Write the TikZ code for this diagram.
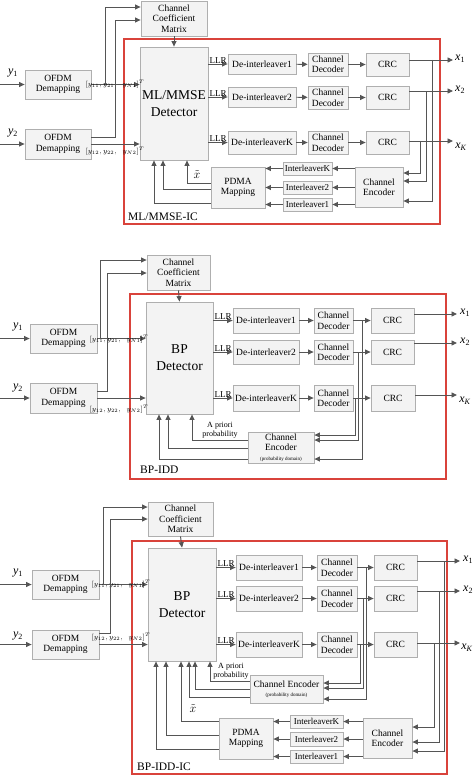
\documentclass[tikz,border=0pt]{standalone}
\usepackage{fontspec}
\setmainfont{Liberation Serif}
\usetikzlibrary{arrows.meta}
\definecolor{wirecol}{HTML}{555555}
\definecolor{bxfill}{HTML}{F3F3F3}
\definecolor{bxdraw}{HTML}{AFAFAF}
\definecolor{rd}{HTML}{D9433B}
\newcommand\mybox[7][box]{\node[#1,minimum width={(#5)-(#3)},minimum height={(#6)-(#4)}] (#2) at ({((#3)+(#5))/2},{((#4)+(#6))/2}) {#7};}
\newcommand\ylist[1]{$[y_{1#1},y_{2#1},\;\;y_{N#1}]^T$}
\begin{document}
\begin{tikzpicture}[x=1pt,y=-1pt,
  box/.style={draw=bxdraw,fill=bxfill,line width=0.8pt,inner sep=1pt,align=center,font=\fontsize{9.5}{10.5}\selectfont},
  sbox/.style={box,font=\fontsize{9}{10}\selectfont},
  detbox/.style={box,font=\fontsize{13.5}{17}\selectfont},
  arr/.style={draw=wirecol,line width=0.95pt,-{Triangle[length=5.5pt,width=5pt]}},
  wire/.style={draw=wirecol,line width=0.95pt},
  redbox/.style={draw=rd,line width=1.2pt},
  lab/.style={font=\fontsize{9}{10}\selectfont,inner sep=0.3pt},
  apr/.style={font=\fontsize{8}{9}\selectfont,inner sep=0pt,align=center},
  brk/.style={font=\fontsize{7.5}{8}\selectfont,inner sep=0pt},
  vlab/.style={font=\fontsize{12}{13}\selectfont,inner sep=0pt},
  panlab/.style={font=\fontsize{11.5}{13}\selectfont,anchor=west,inner sep=0pt}]
\useasboundingbox (0,0) rectangle (474,776);

%================ PANEL 1 =================
\draw[redbox] (124,39) rectangle (440,224);
\mybox{ccm1}{141}{1}{207}{36}{Channel\\Coefficient\\Matrix}
\mybox[detbox]{det1}{140}{47}{208}{160}{ML/MMSE\\Detector}
\mybox{o11}{25}{70}{91}{99}{OFDM\\Demapping}
\mybox{o12}{25}{129}{91}{159}{OFDM\\Demapping}
\mybox{di11}{228}{54}{296}{74}{De-interleaver1}
\mybox{cd11}{308}{53}{348}{76}{Channel\\Decoder}
\mybox{crc11}{366}{53}{409}{76}{CRC}
\mybox{di12}{228}{87}{296}{107}{De-interleaver2}
\mybox{cd12}{308}{86}{348}{109}{Channel\\Decoder}
\mybox{crc12}{366}{86}{409}{109}{CRC}
\mybox{di1K}{228}{131}{296}{154}{De-interleaverK}
\mybox{cd1K}{308}{131}{348}{154}{Channel\\Decoder}
\mybox{crc1K}{366}{131}{409}{154}{CRC}
\mybox{enc1}{355}{167}{403}{207}{Channel\\Encoder}
\mybox[sbox]{ilK1}{283}{162}{332}{175}{InterleaverK}
\mybox[sbox]{il21}{283}{181}{332}{194}{Interleaver2}
\mybox[sbox]{il11}{283}{198}{332}{211}{Interleaver1}
\mybox{pdma1}{211}{167}{265}{208}{PDMA\\Mapping}
\node[panlab] (pl1) at (128,217) {ML/MMSE-IC};

\coordinate (in11) at (0,84.5);
\coordinate (in12) at (0,144);
\node[vlab] (y11) at (13,73) {\textit{y}\textsubscript{1}};
\node[vlab] (y12) at (13,133) {\textit{y}\textsubscript{2}};
\draw[arr] (in11) -- (o11.west);
\draw[arr] (in12) -- (o12.west);
\draw[arr] (o11.east) -- (o11.east -| det1.west);
\draw[arr] (o12.east) -- (o12.east -| det1.west);
\node[brk] (b11) at (115,84) {\ylist{1}};
\node[brk] (b12) at (115,151) {\ylist{2}};
\coordinate (j11) at (105,84.5);
\draw[arr] (j11) |- (ccm1.west |- 0,7);
\draw[arr] (o12.east |- 0,137) -| (115,20) -- (ccm1.west |- 0,20);
\draw[arr] (ccm1.south) -- (det1.north);
\draw[arr] (det1.east |- di11.west) -- (di11.west) node[lab,midway,above=0pt] {LLR};
\draw[arr] (det1.east |- di12.west) -- (di12.west) node[lab,midway,above=0pt] {LLR};
\draw[arr] (det1.east |- di1K.west) -- (di1K.west) node[lab,midway,above=0pt] {LLR};
\foreach \r in {1,2,K}{
  \draw[arr] (di1\r) -- (cd1\r);
  \draw[arr] (cd1\r) -- (crc1\r);
}
\coordinate (xo11) at (453,60);
\coordinate (xo12) at (453,91);
\coordinate (xo1K) at (453,141);
\draw[arr] (crc11.east |- 0,60) -- (xo11);
\draw[arr] (crc12.east |- 0,91) -- (xo12);
\draw[arr] (crc1K.east |- 0,141) -- (xo1K);
\node[vlab,anchor=west] (xl11) at (455,59) {\textit{x}\textsubscript{1}};
\node[vlab,anchor=west] (xl12) at (455,90) {\textit{x}\textsubscript{2}};
\node[vlab] (xl1K) at (461,147) {\textit{x}\textsubscript{\textit{K}}};
\coordinate (f11) at (432,60);
\coordinate (f12) at (426,91);
\coordinate (f1K) at (420,141);
\draw[arr] (f11) |- (enc1.east |- 0,201);
\draw[arr] (f12) |- (enc1.east |- 0,181);
\draw[arr] (f1K) |- (enc1.east |- 0,173);
\draw[arr] (enc1.west |- ilK1) -- (ilK1.east);
\draw[arr] (enc1.west |- il21) -- (il21.east);
\draw[arr] (enc1.west |- il11) -- (il11.east);
\draw[arr] (ilK1.west) -- (ilK1.west -| pdma1.east);
\draw[arr] (il21.west) -- (il21.west -| pdma1.east);
\draw[arr] (il11.west) -- (il11.west -| pdma1.east);
\draw[arr] (pdma1.west |- 0,183) -| (det1.south -| 187,0);
\draw[arr] (pdma1.west |- 0,189) -| (det1.south -| 163,0);
\draw[arr] (pdma1.west |- 0,203) -| (det1.south -| 154,0);
\node[vlab] (xt1) at (197,175) {$\tilde{x}$};

%================ PANEL 2 =================
\draw[redbox] (130,294) rectangle (446,479);
\mybox{ccm2}{147}{255}{210}{290}{Channel\\Coefficient\\Matrix}
\mybox[detbox]{det2}{146}{302}{213}{414}{BP\\Detector}
\mybox{o21}{30}{324}{97}{353}{OFDM\\Demapping}
\mybox{o22}{30}{383}{97}{413}{OFDM\\Demapping}
\mybox{di21}{233}{308}{299}{333}{De-interleaver1}
\mybox{cd21}{314}{308}{353}{333}{Channel\\Decoder}
\mybox{crc21}{371}{308}{414}{333}{CRC}
\mybox{di22}{233}{340}{299}{364}{De-interleaver2}
\mybox{cd22}{314}{340}{353}{364}{Channel\\Decoder}
\mybox{crc22}{371}{340}{414}{364}{CRC}
\mybox{di2K}{233}{385}{299}{411}{De-interleaverK}
\mybox{cd2K}{314}{385}{353}{411}{Channel\\Decoder}
\mybox{crc2K}{371}{385}{415}{411}{CRC}
\mybox{enc2}{248}{432}{314}{463}{Channel\\Encoder\\[-1pt]{\fontsize{5}{6}\selectfont (probability domain)}}
\node[panlab] (pl2) at (140,470) {BP-IDD};

\coordinate (in21) at (0,338.5);
\coordinate (in22) at (0,398);
\node[vlab] (y21) at (18,327) {\textit{y}\textsubscript{1}};
\node[vlab] (y22) at (18,388) {\textit{y}\textsubscript{2}};
\draw[arr] (in21) -- (o21.west);
\draw[arr] (in22) -- (o22.west);
\draw[arr] (o21.east) -- (o21.east -| det2.west);
\draw[arr] (o22.east) -- (o22.east -| det2.west);
\node[brk] (b21) at (119,339) {\ylist{1}};
\node[brk] (b22) at (119,409) {\ylist{2}};
\coordinate (j21) at (100,338.5);
\draw[arr] (j21) |- (ccm2.west |- 0,260);
\draw[arr] (o22.east |- 0,391) -| (107,273) -- (ccm2.west |- 0,273);
\draw[arr] (ccm2.south) -- (det2.north);
\draw[arr] (det2.east |- di21.west) -- (di21.west) node[lab,midway,above=0pt] {LLR};
\draw[arr] (det2.east |- di22.west) -- (di22.west) node[lab,midway,above=0pt] {LLR};
\draw[arr] (det2.east |- di2K.west) -- (di2K.west) node[lab,midway,above=0pt] {LLR};
\foreach \r in {1,2,K}{
  \draw[arr] (di2\r) -- (cd2\r);
  \draw[arr] (cd2\r) -- (crc2\r);
}
\coordinate (xo21) at (457,314);
\coordinate (xo22) at (457,343);
\coordinate (xo2K) at (457,395);
\draw[arr] (crc21.east |- 0,314) -- (xo21);
\draw[arr] (crc22.east |- 0,343) -- (xo22);
\draw[arr] (crc2K.east |- 0,395) -- (xo2K);
\node[vlab,anchor=west] (xl21) at (460,313) {\textit{x}\textsubscript{1}};
\node[vlab,anchor=west] (xl22) at (460,342) {\textit{x}\textsubscript{2}};
\node[vlab] (xl2K) at (465,401) {\textit{x}\textsubscript{\textit{K}}};
\coordinate (f21) at (362,320.5);
\coordinate (f22) at (358,352);
\coordinate (f2K) at (355,398);
\draw[arr] (f21) |- (enc2.east |- 0,459);
\draw[arr] (f22) |- (enc2.east |- 0,440);
\draw[arr] (f2K) |- (enc2.east |- 0,435);
\draw[arr] (enc2.west |- 0,440) -| (det2.south -| 192,0);
\draw[arr] (enc2.west |- 0,448) -| (det2.south -| 168,0);
\draw[arr] (enc2.west |- 0,459) -| (det2.south -| 159,0);
\node[apr] (ap2) at (220,430) {A priori\\probability};

%================ PANEL 3 =================
\draw[redbox] (132,541) rectangle (447,774);
\mybox{ccm3}{148}{502}{213}{536}{Channel\\Coefficient\\Matrix}
\mybox[detbox]{det3}{148}{548}{216}{661}{BP\\Detector}
\mybox{o31}{32}{570}{99}{599}{OFDM\\Demapping}
\mybox{o32}{32}{630}{99}{659}{OFDM\\Demapping}
\mybox{di31}{236}{555}{302}{580}{De-interleaver1}
\mybox{cd31}{317}{555}{357}{580}{Channel\\Decoder}
\mybox{crc31}{374}{555}{417}{580}{CRC}
\mybox{di32}{236}{586}{302}{611}{De-interleaver2}
\mybox{cd32}{317}{586}{357}{611}{Channel\\Decoder}
\mybox{crc32}{374}{586}{417}{611}{CRC}
\mybox{di3K}{236}{632}{302}{657}{De-interleaverK}
\mybox{cd3K}{317}{632}{357}{657}{Channel\\Decoder}
\mybox{crc3K}{374}{632}{417}{657}{CRC}
\mybox{enc3p}{250}{675}{323}{703}{Channel Encoder\\[-1pt]{\fontsize{5}{6}\selectfont (probability domain)}}
\mybox{enc3}{363}{718}{412}{758}{Channel\\Encoder}
\mybox[sbox]{ilK3}{290}{715}{343}{728}{InterleaverK}
\mybox[sbox]{il23}{290}{732}{343}{746}{Interleaver2}
\mybox[sbox]{il13}{290}{750}{343}{763}{Interleaver1}
\mybox{pdma3}{219}{718}{273}{759}{PDMA\\Mapping}
\node[panlab] (pl3) at (137,767) {BP-IDD-IC};

\coordinate (in31) at (0,584.5);
\coordinate (in32) at (0,644.5);
\node[vlab] (y31) at (18,573) {\textit{y}\textsubscript{1}};
\node[vlab] (y32) at (18,636) {\textit{y}\textsubscript{2}};
\draw[arr] (in31) -- (o31.west);
\draw[arr] (in32) -- (o32.west);
\draw[arr] (o31.east) -- (o31.east -| det3.west);
\draw[arr] (o32.east) -- (o32.east -| det3.west);
\node[brk] (b31) at (121,584) {\ylist{1}};
\node[brk] (b32) at (121,637) {\ylist{2}};
\coordinate (j31) at (103,584.5);
\draw[arr] (j31) |- (ccm3.west |- 0,507);
\draw[arr] (o32.east |- 0,633) -| (110,519) -- (ccm3.west |- 0,519);
\draw[arr] (ccm3.south) -- (det3.north);
\draw[arr] (det3.east |- di31.west) -- (di31.west) node[lab,midway,above=0pt] {LLR};
\draw[arr] (det3.east |- di32.west) -- (di32.west) node[lab,midway,above=0pt] {LLR};
\draw[arr] (det3.east |- di3K.west) -- (di3K.west) node[lab,midway,above=0pt] {LLR};
\foreach \r in {1,2,K}{
  \draw[arr] (di3\r) -- (cd3\r);
  \draw[arr] (cd3\r) -- (crc3\r);
}
\coordinate (xo31) at (460,561);
\coordinate (xo32) at (460,591);
\coordinate (xo3K) at (460,643);
\draw[arr] (crc31.east |- 0,561) -- (xo31);
\draw[arr] (crc32.east |- 0,591) -- (xo32);
\draw[arr] (crc3K.east |- 0,643) -- (xo3K);
\node[vlab,anchor=west] (xl31) at (463,560) {\textit{x}\textsubscript{1}};
\node[vlab,anchor=west] (xl32) at (463,590) {\textit{x}\textsubscript{2}};
\node[vlab] (xl3K) at (467,648) {\textit{x}\textsubscript{\textit{K}}};
% from decoders
\coordinate (g31) at (366,567.5);
\coordinate (g32) at (363,598.5);
\coordinate (g3K) at (360,644.5);
\draw[arr] (g31) |- (enc3p.east |- 0,699);
\draw[arr] (g32) |- (enc3p.east |- 0,688);
\draw[arr] (g3K) |- (enc3p.east |- 0,683);
% from CRCs
\coordinate (f31) at (444,561);
\coordinate (f32) at (439,591);
\coordinate (f3K) at (434,643);
\draw[arr] (f31) |- (enc3.east |- 0,751);
\draw[arr] (f32) |- (enc3.east |- 0,742);
\draw[arr] (f3K) |- (enc3.east |- 0,727);
\draw[arr] (enc3.west |- ilK3) -- (ilK3.east);
\draw[arr] (enc3.west |- il23) -- (il23.east);
\draw[arr] (enc3.west |- il13) -- (il13.east);
\draw[arr] (ilK3.west) -- (ilK3.west -| pdma3.east);
\draw[arr] (il23.west) -- (il23.west -| pdma3.east);
\draw[arr] (il13.west) -- (il13.west -| pdma3.east);
\draw[arr] (enc3p.west |- 0,681) -| (det3.south -| 210,0);
\draw[arr] (enc3p.west |- 0,689) -| (det3.south -| 195,0);
\draw[arr] (enc3p.west |- 0,697) -| (det3.south -| 189,0);
\node[apr] (ap3) at (231,671) {A priori\\probability};
\draw[arr] (pdma3.west |- 0,721) -| (det3.south -| 181,0);
\draw[arr] (pdma3.west |- 0,735) -| (det3.south -| 166,0);
\draw[arr] (pdma3.west |- 0,749) -| (det3.south -| 156,0);
\node[vlab] (xt3) at (193,709) {$\tilde{x}$};
\end{tikzpicture}
\end{document}
